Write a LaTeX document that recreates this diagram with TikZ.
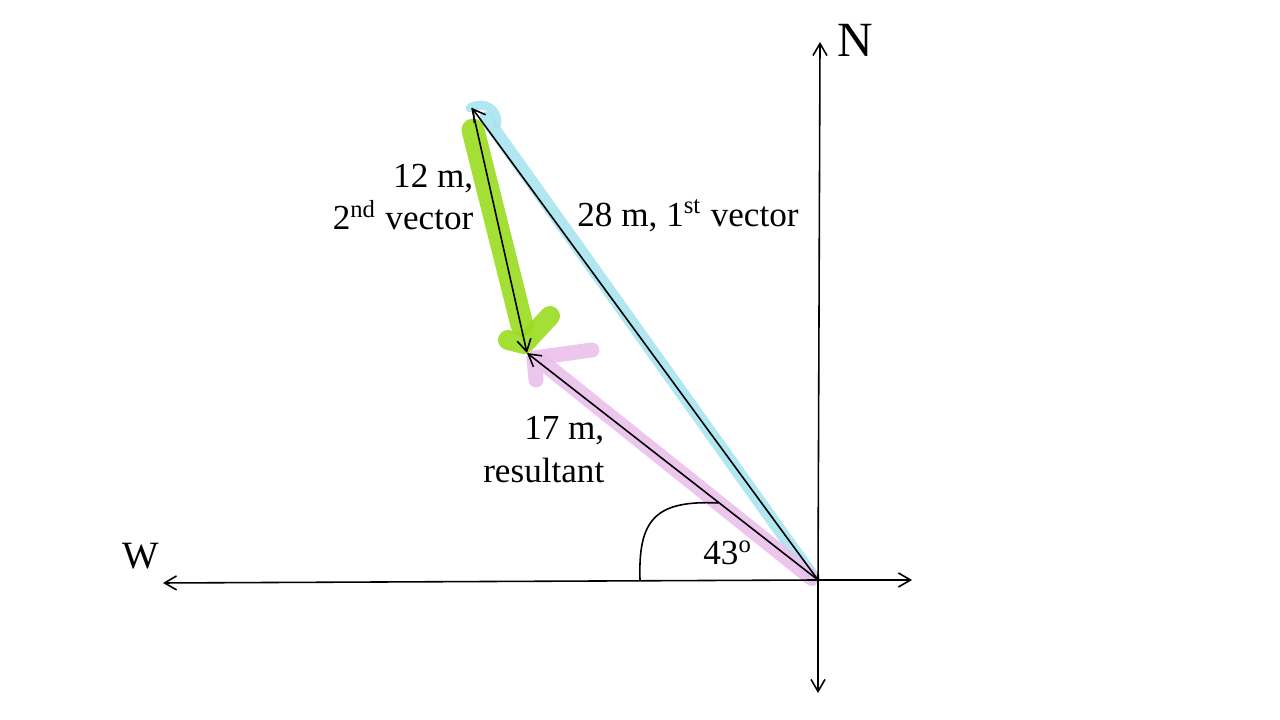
\documentclass[tikz,border=0pt]{standalone}
\usepackage{fontspec}
\setmainfont{Liberation Serif}
\usetikzlibrary{arrows.meta}
\begin{document}
\begin{tikzpicture}[
    vec/.style={line width=0.45pt, -{Straight Barb[length=1.2mm, width=1.4mm]}},
    hilite/.style={line cap=round, line join=round, opacity=0.9},
    lbl/.style={inner sep=0, font=\fontsize{10}{12.2}\selectfont}]
          % Frame:
          \useasboundingbox (0, 0) rectangle (12.8, 7.2);
          % Points:
          \coordinate (O) at (8.18, 1.40);
          \coordinate (T) at (4.72, 6.12);
          \coordinate (E) at (5.27, 3.67);
          \coordinate (wend) at (1.63, 1.37);
          \coordinate (eend) at (9.12, 1.40);
          \coordinate (nend) at (8.20, 6.78);
          \coordinate (send) at (8.18, 0.27);
          % Highlighter marks:
          \draw[hilite, draw={rgb,255:red,168;green,228;blue,238}, line width=0.13cm] (8.13, 1.43) -- (4.86, 6.02);
          \draw[hilite, draw={rgb,255:red,168;green,228;blue,238}, line width=0.09cm] (4.70, 6.12) .. controls (4.85, 6.20) and (4.98, 6.10) .. (4.97, 5.96);
          \draw[hilite, draw={rgb,255:red,154;green,219;blue,31}, line width=0.23cm] (4.73, 5.90) -- (5.22, 3.95);
          \draw[hilite, draw={rgb,255:red,154;green,219;blue,31}, line width=0.2cm] (5.08, 3.80) -- (5.24, 3.76) -- (5.50, 4.04);
          \draw[hilite, draw={rgb,255:red,235;green,192;blue,236}, line width=0.16cm] (8.12, 1.42) -- (5.42, 3.58);
          \draw[hilite, draw={rgb,255:red,235;green,192;blue,236}, line width=0.15cm] (5.36, 3.40) -- (5.34, 3.62) -- (5.92, 3.70);
          % Axes:
          \draw[vec] (O) -- (wend);
          \draw[vec] (O) -- (eend);
          \draw[vec] (O) -- (nend);
          \draw[vec] (O) -- (send);
          \node[font=\fontsize{14}{16}\selectfont, inner sep=0] (N) at (8.55, 6.80) {N};
          \node[font=\fontsize{11}{13}\selectfont, inner sep=0] (W) at (1.41, 1.64) {W};
          % Vectors:
          \draw[vec] (O) -- (T);
          \draw[vec] (T) -- (E);
          \draw[vec] (O) -- (E);
          % Angle:
          \draw[line width=0.45pt] (6.40, 1.40) .. controls (6.38, 2.00) and (6.55, 2.20) .. (7.18, 2.17);
          \node[lbl] (ang) at (7.28, 1.67) {43\textsuperscript{o}};
          % Labels:
          \node[lbl, anchor=east, align=right] (second) at (4.74, 5.23) {12 m,\\2\textsuperscript{nd} vector};
          \node[lbl] (first) at (6.88, 5.04) {28 m, 1\textsuperscript{st} vector};
          \node[lbl, anchor=east, align=right] (result) at (6.05, 2.70) {17 m,\\resultant};
        \end{tikzpicture}
\end{document}
